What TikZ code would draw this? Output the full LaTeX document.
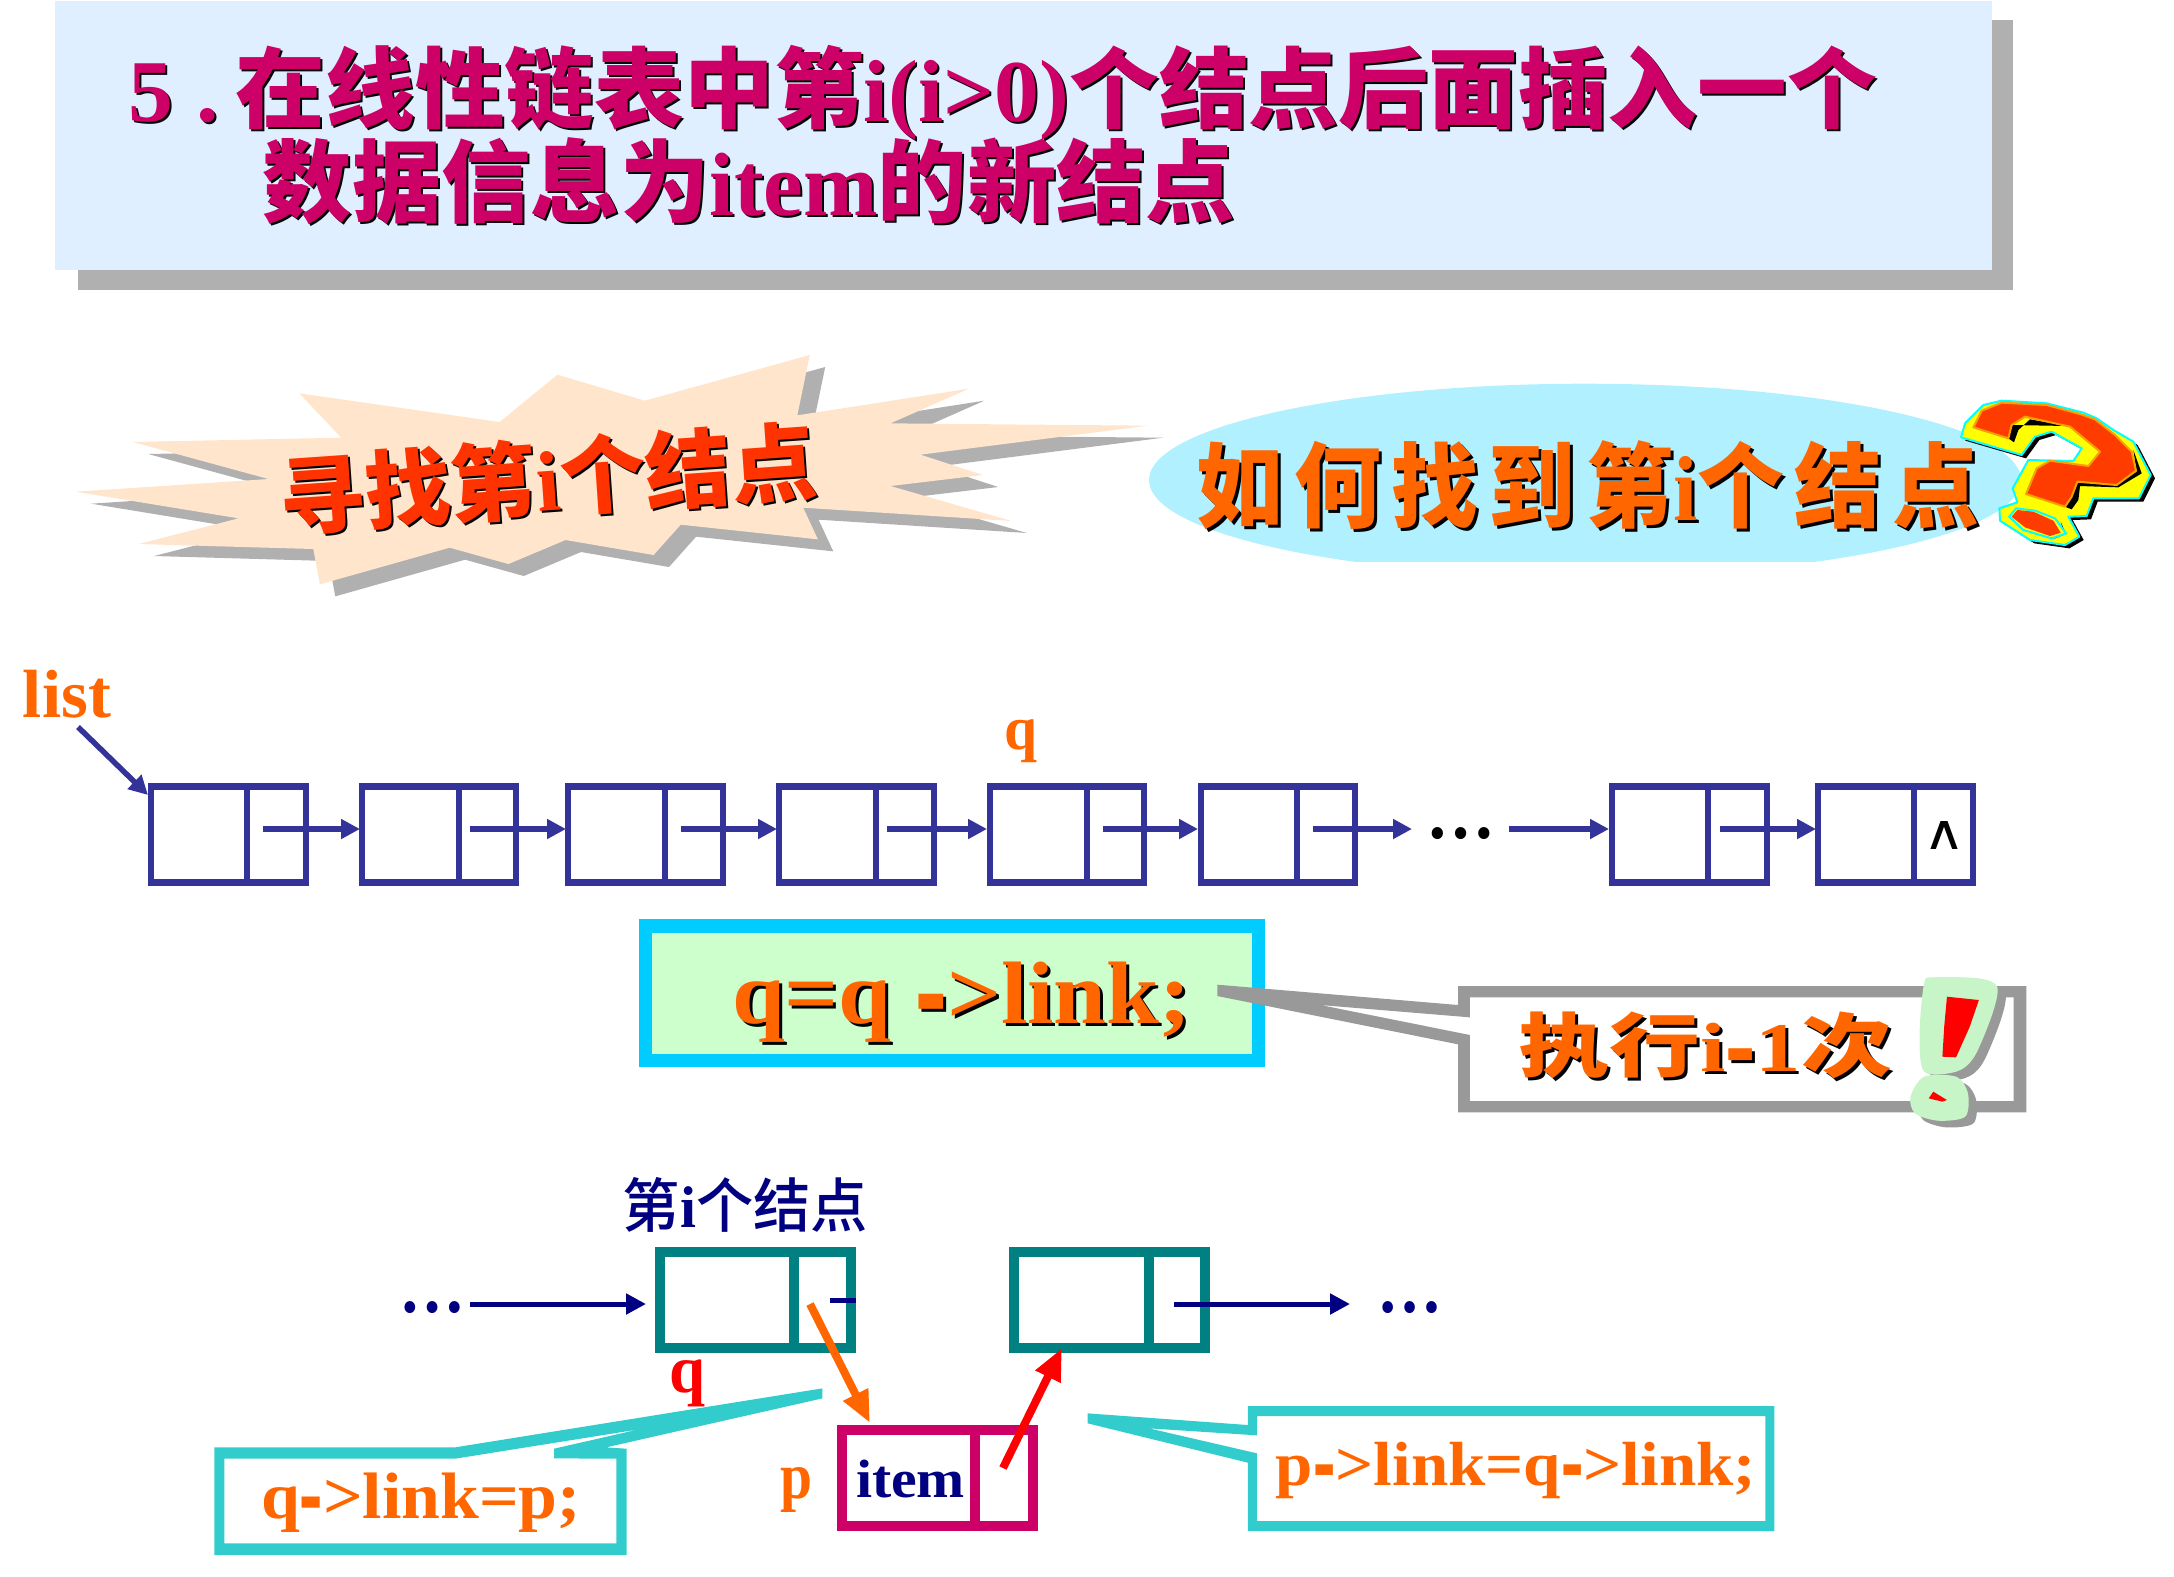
\documentclass[tikz,border=0pt]{standalone}
\usepackage{fontspec}
\usepackage{graphicx}
\usetikzlibrary{arrows.meta,shapes.geometric,calc}
\setmainfont{Liberation Serif}
\newfontfamily\zhfam[BoldFont={Noto Sans CJK SC Black}]{Noto Sans CJK SC}
\newfontfamily\zhmed{Noto Sans CJK SC Medium}
\newfontfamily\djfam{DejaVu Sans}
\newcommand{\zhb}[1]{{\zhfam\bfseries #1}}
\newcommand{\zhr}[1]{{\zhmed\mdseries #1}}
\newcommand{\hy}{\raisebox{-.22em}{\scalebox{1}[2]{-}}}
\definecolor{titlepink}{HTML}{CC0066}
\definecolor{titlebg}{HTML}{DFEFFF}
\definecolor{shadowgrey}{HTML}{B0B0B0}
\definecolor{burst}{HTML}{FFE5CC}
\definecolor{burstred}{HTML}{FF3300}
\definecolor{skyfill}{HTML}{B0F0FF}
\definecolor{orangetx}{HTML}{FF6600}
\definecolor{chainblue}{HTML}{333399}
\definecolor{navy}{HTML}{000080}
\definecolor{tealbox}{HTML}{008080}
\definecolor{calloutteal}{HTML}{33CCCC}
\definecolor{greybox}{HTML}{999999}
\definecolor{greenfill}{HTML}{CCFFCC}
\definecolor{cyanborder}{HTML}{00CCFF}
\definecolor{exclgreen}{HTML}{C8F5C8}
\definecolor{qorange}{HTML}{FF3C00}
\definecolor{qyellow}{HTML}{FFFF00}
\definecolor{qcyan}{HTML}{00FFFF}
\definecolor{qamber}{HTML}{F8A000}
\newcommand{\fitbox}[3]{\resizebox*{\dimexpr#1pt/2\relax}{\dimexpr#2pt/2\relax}{#3}}
% [opts]{name}{xL}{xR}{yT}{yB}{colour}{shadow}{text}
\newcommand{\lab}[9][]{%
  \pgfmathsetmacro{\labw}{#4-#3}\pgfmathsetmacro{\labh}{#6-#5}%
  \ifnum#8>0
  \node[txtnode,#1,text=black] (#2-sh) at ({(#3+#4)/2+#8},{(#5+#6)/2+#8}) {\fitbox{\labw}{\labh}{\bfseries #9}};
  \fi
  \node[txtnode,#1,text=#7] (#2) at ({(#3+#4)/2},{(#5+#6)/2}) {\fitbox{\labw}{\labh}{\bfseries #9}};
}
% {name}{x1}{split}{x2}{y1}{y2}{style}
\newcommand{\cellpair}[7]{%
  \node[cellbox,#7,minimum width={(#4-#2)*0.5pt},minimum height={(#6-#5)*0.5pt}] (#1) at ({(#2+#4)/2},{(#5+#6)/2}) {};
  \coordinate (#1-sp) at (#3,#5);
  \draw[#7] (#1-sp) -- (#1-sp |- #1.south);
}
\tikzset{
  txtnode/.style={inner sep=0pt,outer sep=0pt},
  cellbox/.style={rectangle,inner sep=0pt,outer sep=0pt},
  chaincell/.style={draw=chainblue,line width=3.25pt,miter limit=10},
  tealcell/.style={draw=tealbox,line width=5pt},
  pinkcell/.style={draw=titlepink,line width=5pt},
  chainarrow/.style={draw=chainblue,line width=2.75pt,-{Triangle[length=9.5pt,width=9.5pt]}},
  navyarrow/.style={draw=navy,line width=2.5pt,-{Triangle[length=10pt,width=10pt]}},
  bigarrow/.style={line width=4pt,-{Triangle[length=16pt,width=13pt]}},
  zs/.style n args={4}{shift={(#1,#2)},x=#3pt,y=#4pt},
  flatbox/.style={rectangle,inner sep=0pt,outer sep=0pt}
}
\begin{document}
\begin{tikzpicture}[x=0.5pt,y=-0.5pt]
\useasboundingbox (0,0) rectangle (2174,1576);
% title
\node[flatbox,fill=shadowgrey,minimum width=967.5pt,minimum height=135pt] (titleshadow) at (1045.5,155) {};
\node[flatbox,fill=titlebg,minimum width=968.5pt,minimum height=134.5pt] (titlebox) at (1023.5,135.5) {};
\lab{titleA}{129}{1877}{45}{140}{titlepink}{2}{5 .\hspace{.19em}\zhb{在线性链表中第}i(i>0)\zhb{个结点后面插入一个}}
\lab{titleB}{263}{1235}{138}{225}{titlepink}{2}{\zhb{数据信息为}item\zhb{的新结点}}
% ellipse
\begin{scope}
\clip (1100,370) rectangle (2100,561);
\node[ellipse,fill=skyfill,inner sep=0pt,minimum width=436pt,minimum height=96.3pt] (sky) at (1585,480) {};
\end{scope}
% burst
\begin{scope}[zs={50}{340}{0.3667}{-0.16667}]
\def\burstpath{(35,455) -- (298,417) -- (113,306) -- (397,293) -- (340,160) -- (613,246) -- (692,104) -- (811,182) -- (1036,45) -- (1019,226) -- (1253,146) -- (1146,250) -- (1497,257) -- (1187,344) -- (1272,405) -- (1146,438) -- (1311,543) -- (1027,503) -- (1047,598) -- (860,554) -- (823,645) -- (703,600) -- (625,672) -- (545,623) -- (368,733) -- (359,627) -- (121,612) -- (257,535) -- cycle}
\fill[shadowgrey,shift={(21,36)}] \burstpath;
\fill[burst] \burstpath;
\end{scope}
\lab[rotate=4]{seek}{279}{817}{437}{519}{burstred}{2}{\zhb{寻找第}i\zhb{个结点}}
\lab{how}{1197}{1979}{441}{530}{orangetx}{3}{\zhb{如}\hspace{.12em}\zhb{何}\hspace{.12em}\zhb{找}\hspace{.12em}\zhb{到}\hspace{.12em}\zhb{第}i\zhb{个}\hspace{.12em}\zhb{结}\hspace{.12em}\zhb{点}}
% question mark
\begin{scope}[zs={1940}{390}{0.16667}{-0.16667}]
\def\qmain{(63,142) -- (75,100) -- (130,45) -- (185,32) -- (320,40) -- (430,68) -- (470,85) -- (520,120) -- (580,155) -- (632,255) -- (597,325) -- (460,325) -- (440,378) -- (385,380) -- (418,440) -- (375,465) -- (270,450) -- (180,392) -- (178,355) -- (232,337) -- (218,295) -- (265,210) -- (400,213) -- (425,175) -- (335,125) -- (285,140) -- (245,195) -- cycle}
\fill[black,shift={(13,10)}] \qmain;
\path[fill=qyellow,draw=qcyan,line width=1pt,line join=round] \qmain;
\fill[black] (205,145) -- (222,157) -- (235,120) -- (270,88) -- (385,108) -- (215,105) -- cycle;
\fill[black] (375,350) -- (395,358) -- (415,330) -- (420,288) -- (535,292) -- (605,250) -- (580,180) -- (590,245) -- (530,285) -- (412,275) -- cycle;
\path[fill=qorange,draw=qamber,line width=1pt,line join=round] (100,112) -- (125,62) -- (185,38) -- (320,45) -- (420,72) -- (465,88) -- (525,135) -- (575,185) -- (588,242) -- (530,285) -- (412,275) -- (395,320) -- (375,350) -- (258,312) -- (290,235) -- (330,212) -- (445,228) -- (480,185) -- (390,110) -- (255,80) -- (215,105) -- (205,145) -- cycle;
\fill[black] (340,447) -- (378,432) -- (362,395) -- (372,430) -- cycle;
\path[draw=qcyan,line width=1pt,fill=qyellow] (208,380) -- (228,355) -- (285,362) -- (345,385) -- (378,430) -- (335,445) -- (250,420) -- cycle;
\path[fill=qorange] (215,380) -- (232,360) -- (280,365) -- (340,392) -- (362,428) -- (330,438) -- (255,412) -- cycle;
\end{scope}
% chain
\lab{listlab}{23}{111}{670}{718}{orangetx}{0}{list}
\lab{qtop}{1004}{1037}{720}{763}{orangetx}{0}{q}
\cellpair{c1}{151}{247}{306}{786.5}{882.5}{chaincell}
\cellpair{c2}{362}{459}{516}{786.5}{882.5}{chaincell}
\cellpair{c3}{568}{665}{723}{786.5}{882.5}{chaincell}
\cellpair{c4}{779}{876}{934}{786.5}{882.5}{chaincell}
\cellpair{c5}{990}{1087}{1144}{786.5}{882.5}{chaincell}
\cellpair{c6}{1201}{1297}{1355}{786.5}{882.5}{chaincell}
\cellpair{c7}{1612}{1708}{1767}{786.5}{882.5}{chaincell}
\cellpair{c8}{1818}{1914}{1973}{786.5}{882.5}{chaincell}
\coordinate (list-s) at (78,727);
\coordinate (list-e) at (148,795);
\draw[chainarrow] (list-s) -- (list-e);
\coordinate (o1) at (263,829); \coordinate (i2) at (360,829);
\coordinate (o2) at (470,829); \coordinate (i3) at (566,829);
\coordinate (o3) at (681,829); \coordinate (i4) at (777,829);
\coordinate (o4) at (887,829); \coordinate (i5) at (987,829);
\coordinate (o5) at (1103,829); \coordinate (i6) at (1198,829);
\coordinate (o6) at (1313,829); \coordinate (d1) at (1412,829);
\coordinate (d2) at (1509,829); \coordinate (i7) at (1609,829);
\coordinate (o7) at (1720,829); \coordinate (i8) at (1816,829);
\draw[chainarrow] (o1) -- (i2);
\draw[chainarrow] (o2) -- (i3);
\draw[chainarrow] (o3) -- (i4);
\draw[chainarrow] (o4) -- (i5);
\draw[chainarrow] (o5) -- (i6);
\draw[chainarrow] (o6) -- (d1);
\draw[chainarrow] (d2) -- (i7);
\draw[chainarrow] (o7) -- (i8);
\lab{dotsA}{1426}{1495}{828}{840}{black}{0}{…}
\node[txtnode] (nullmark) at (1944.5,835) {\fitbox{42}{28}{\djfam ∧}};
% green box
\node[flatbox,draw=cyanborder,fill=greenfill,line width=6.75pt,minimum width=306.5pt,minimum height=67.25pt] (codebox) at (952,993.25) {};
\lab{codetxt}{732}{1191}{962}{1043}{orangetx}{3}{q=q \hy>link;}
% grey callout
\begin{scope}[zs={620}{900}{0.456}{-0.16667}]
\path[fill=greybox,even odd rule] (919,258) -- (1542,258) -- (1542,637) -- (919,637) -- (919,433) -- (655,288) -- (655,254) -- (919,315) -- cycle (932,292) -- (1528,292) -- (1528,603) -- (932,603) -- (932,405) -- (768,315) -- (932,352) -- cycle;
\end{scope}
\lab{times}{1519}{1892}{1012}{1087}{orangetx}{3}{\zhb{执行}i\hy1\zhb{次}}
\begin{scope}[zs={620}{900}{0.456}{-0.16667}]
\def\bara{plot[smooth cycle,tension=.5] coordinates {(1430,250) (1440,232) (1490,235) (1510,260) (1505,340) (1485,470) (1465,515) (1430,515) (1425,400)}}
\def\dota{plot[smooth cycle,tension=.5] coordinates {(1415,590) (1430,530) (1465,530) (1478,580) (1475,650) (1445,662) (1420,640)}}
\fill[greybox,shift={(9,20)}] \bara;
\fill[greybox,shift={(9,20)}] \dota;
\fill[exclgreen] \bara;
\fill[exclgreen] \dota;
\fill[red] (1455,290) -- (1490,300) -- (1480,380) -- (1465,472) -- (1450,470) -- (1452,380) -- cycle;
\fill[red] (1440,575) -- (1455,600) -- (1450,605) -- (1435,595) -- cycle;
\end{scope}
% bottom
\lab{ith}{623}{868}{1177}{1232}{navy}{0}{\zhr{第}i\zhr{个结点}}
\cellpair{t1}{660}{794}{851}{1251.5}{1347.5}{tealcell}
\cellpair{t2}{1014}{1149}{1205}{1251.5}{1347.5}{tealcell}
\cellpair{m1}{842}{975}{1033}{1429.5}{1525.5}{pinkcell}
\lab{dotsB}{399}{465}{1302}{1314}{navy}{0}{…}
\lab{dotsC}{1377}{1442}{1302}{1314}{navy}{0}{…}
\coordinate (na-s) at (470,1304); \coordinate (na-e) at (646,1304);
\coordinate (nb-s) at (1174,1304); \coordinate (nb-e) at (1350,1304);
\coordinate (nc-s) at (830,1300); \coordinate (nc-e) at (856,1300);
\draw[navyarrow] (na-s) -- (na-e);
\draw[navyarrow] (nb-s) -- (nb-e);
\draw[draw=navy,line width=2.5pt] (nc-s) -- (nc-e);
\lab{qlow}{669}{705}{1360}{1407}{red}{0}{q}
\lab{plab}{780}{812}{1467}{1512}{orangetx}{0}{p}
\lab{itemlab}{856}{965}{1460}{1498}{navy}{0}{item}
\begin{scope}[zs={200}{1160}{0.5102}{-0.16667}]
\path[fill=calloutteal,even odd rule] (14,862) -- (250,862) -- (610,685) -- (610,715) -- (398,862) -- (418,866) -- (418,1185) -- (14,1185) -- cycle (24,896) -- (250,896) -- (430,808) -- (347,866) -- (347,895) -- (408,896) -- (408,1150) -- (24,1150) -- cycle;
\path[fill=calloutteal,even odd rule] (1027,738) -- (1543,738) -- (1543,1113) -- (1027,1113) -- (1027,908) -- (870,790) -- (870,760) -- (1027,795) -- cycle (1036,768) -- (1534,768) -- (1534,1083) -- (1036,1083) -- (1036,880) -- (930,805) -- (1036,826) -- cycle;
\end{scope}
\lab{calloutL}{261}{581}{1473}{1533}{orangetx}{0}{q\hy>link=p;}
\lab{calloutR}{1276}{1756}{1442}{1499}{orangetx}{0}{p\hy>link=q\hy>link;}
\coordinate (oa-s) at (810,1304); \coordinate (oa-e) at (870,1423);
\coordinate (ra-s) at (1003,1468); \coordinate (ra-e) at (1062,1348);
\draw[bigarrow,draw=orangetx,fill=orangetx] (oa-s) -- (oa-e);
\draw[bigarrow,draw=red,fill=red] (ra-s) -- (ra-e);
\end{tikzpicture}
\end{document}
